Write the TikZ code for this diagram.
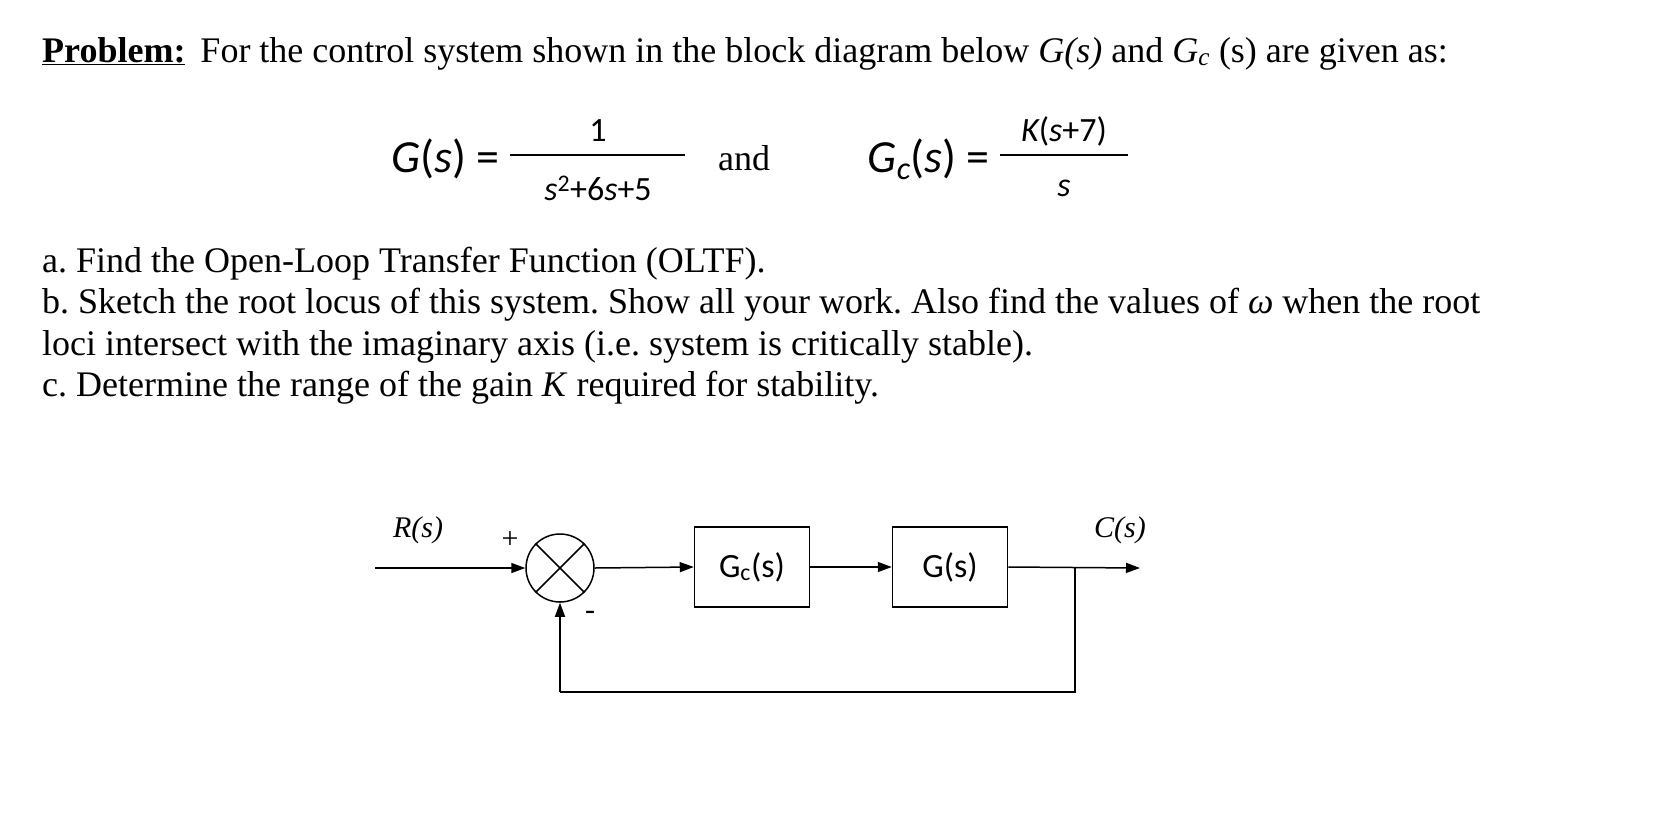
\documentclass[tikz,border=0pt]{standalone}
\usepackage{fontspec}
\setmainfont{Liberation Serif}
\newfontfamily\eqf{Carlito}
\frenchspacing
\usetikzlibrary{arrows.meta}
\begin{document}
\begin{tikzpicture}[x=1pt,y=-1pt,
  txt/.style={anchor=base west,inner sep=0pt,font=\fontsize{36}{36}\selectfont},
  eqbig/.style={inner sep=0pt,font=\eqf\fontsize{46}{46}\selectfont},
  eq/.style={inner sep=0pt,font=\eqf\fontsize{34}{34}\selectfont},
  dg/.style={inner sep=0pt,font=\fontsize{30}{30}\selectfont},
  blk/.style={draw,line width=1.5pt,minimum width=115pt,minimum height=80pt,font=\eqf\fontsize{34}{34}\selectfont},
  ln/.style={line width=1.5pt},
  arr/.style={line width=1.5pt,-{Triangle[length=14pt,width=10pt]}}]
\useasboundingbox (0,0) rectangle (1662,812);
\node[txt] (t1) at (42,62) {\textbf{\underline{Problem:}}\, For the control system shown in the block diagram below \textit{G(s)} and \textit{G\textsubscript{c}} (s) are given as:};
\node[eqbig,anchor=base east] (g) at (500,172) {\itshape G\upshape(\itshape s\upshape) =};
\node[eq] (n1) at (598,131) {1};
\draw[ln] (510,155) -- (685,155);
\node[eq] (d1) at (598,188) {\itshape s\textsuperscript{\upshape 2}\upshape +6\itshape s\upshape +5};
\node[txt] (and) at (718,170) {and};
\node[eqbig,anchor=base east] (gc) at (990,172) {\itshape G\textsubscript{c}\upshape(\itshape s\upshape) =};
\node[eq] (n2) at (1064,131) {\itshape K\upshape (\itshape s\upshape +7)};
\draw[ln] (1000,155) -- (1128,155);
\node[eq] (d2) at (1064,188) {\itshape s};
\node[txt] (a) at (42,272) {a. Find the Open-Loop Transfer Function (OLTF).};
\node[txt] (b) at (42,313) {b. Sketch the root locus of this system. Show all your work. Also find the values of \textit{\symbol{"03C9}} when the root};
\node[txt] (b2) at (42,355) {loci intersect with the imaginary axis (i.e. system is critically stable).};
\node[txt] (c) at (42,396) {c. Determine the range of the gain \textit{K} required for stability.};
% diagram
\node[dg] (R) at (418,530) {\itshape R(s)};
\node[dg] (C) at (1120,530) {\itshape C(s)};
\node[dg] (plus) at (510,540) {+};
\node[dg] (minus) at (590,615) {-};
\node[draw,circle,ln,minimum size=68pt,inner sep=0pt] (sum) at (560,568) {};
\draw[ln] (sum.45) -- (sum.225) (sum.135) -- (sum.315);
\node[blk] (gcb) at (752,567) {G\textsubscript{c}(s)};
\node[blk] (gb) at (950,567) {G(s)};
\coordinate (in) at (375,568);
\coordinate (out) at (1140,568);
\coordinate (br) at (1075,568);
\coordinate (fb1) at (1075,692);
\coordinate (fb2) at (560,692);
\draw[arr] (in) -- (sum.west);
\draw[arr] (sum.east) -- (gcb.west);
\draw[arr] (gcb.east) -- (gb.west);
\draw[arr] (gb.east) -- (out);
\draw[ln] (br) -- (fb1) -- (fb2);
\draw[arr] (fb2) -- (sum.south);
\end{tikzpicture}
\end{document}
